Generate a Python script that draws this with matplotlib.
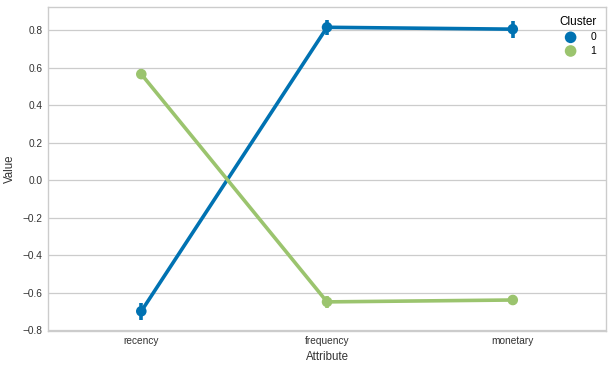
import numpy as np
import matplotlib
matplotlib.use("Agg")
import matplotlib.pyplot as plt

attributes = ["recency", "frequency", "monetary"]
clusters = ["0", "1"]
means_c0 = [-0.70, 0.815, 0.805]
means_c1 = [0.565, -0.650, -0.640]
err_c0 = [0.045, 0.040, 0.045]
err_c1 = [0.025, 0.030, 0.025]
colors = ["#0072B2", "#9BC46E"]

plt.rcParams["font.family"] = ["Liberation Sans", "DejaVu Sans"]

fig, ax = plt.subplots(figsize=(6.13, 3.71), dpi=100)
fig.subplots_adjust(left=0.079, right=0.988, top=0.981, bottom=0.108)

x = np.arange(len(attributes))
for name, m, e, c in zip(clusters, [means_c0, means_c1], [err_c0, err_c1], colors):
    ax.plot(x, m, color=c, lw=2.6, zorder=3)
    ax.errorbar(x, m, yerr=e, fmt="none", ecolor=c, elinewidth=2.6, zorder=3)
    ax.scatter(x, m, s=58, color=c, zorder=4, label=name, edgecolors="none")

ax.set_xlim(-0.5, 2.5)
ax.set_ylim(-0.805, 0.923)
ax.set_xticks(x)
ax.set_xticklabels(attributes)
ax.set_yticks(np.arange(-0.8, 0.81, 0.2))
ax.set_yticklabels(["\u22120.8", "\u22120.6", "\u22120.4", "\u22120.2", "0.0", "0.2", "0.4", "0.6", "0.8"])
ax.tick_params(labelsize=7.3, length=0, pad=4, colors="#333333")
ax.set_xlabel("Attribute", fontsize=8.3, color="#333333", labelpad=3)
ax.set_ylabel("Value", fontsize=8.3, color="#333333", labelpad=5)
ax.grid(axis="y", color="#cccccc", lw=0.9)
ax.set_axisbelow(True)
for s in ax.spines.values():
    s.set_color("#cccccc")
    s.set_linewidth(1.0)

leg = ax.legend(title="Cluster", loc="upper right", frameon=False, fontsize=7.5,
                title_fontsize=8.5, markerscale=1.1, handletextpad=0.9,
                borderaxespad=0.5, labelspacing=0.35)
leg._legend_box.align = "right"

fig.savefig("out.png", dpi=100)
